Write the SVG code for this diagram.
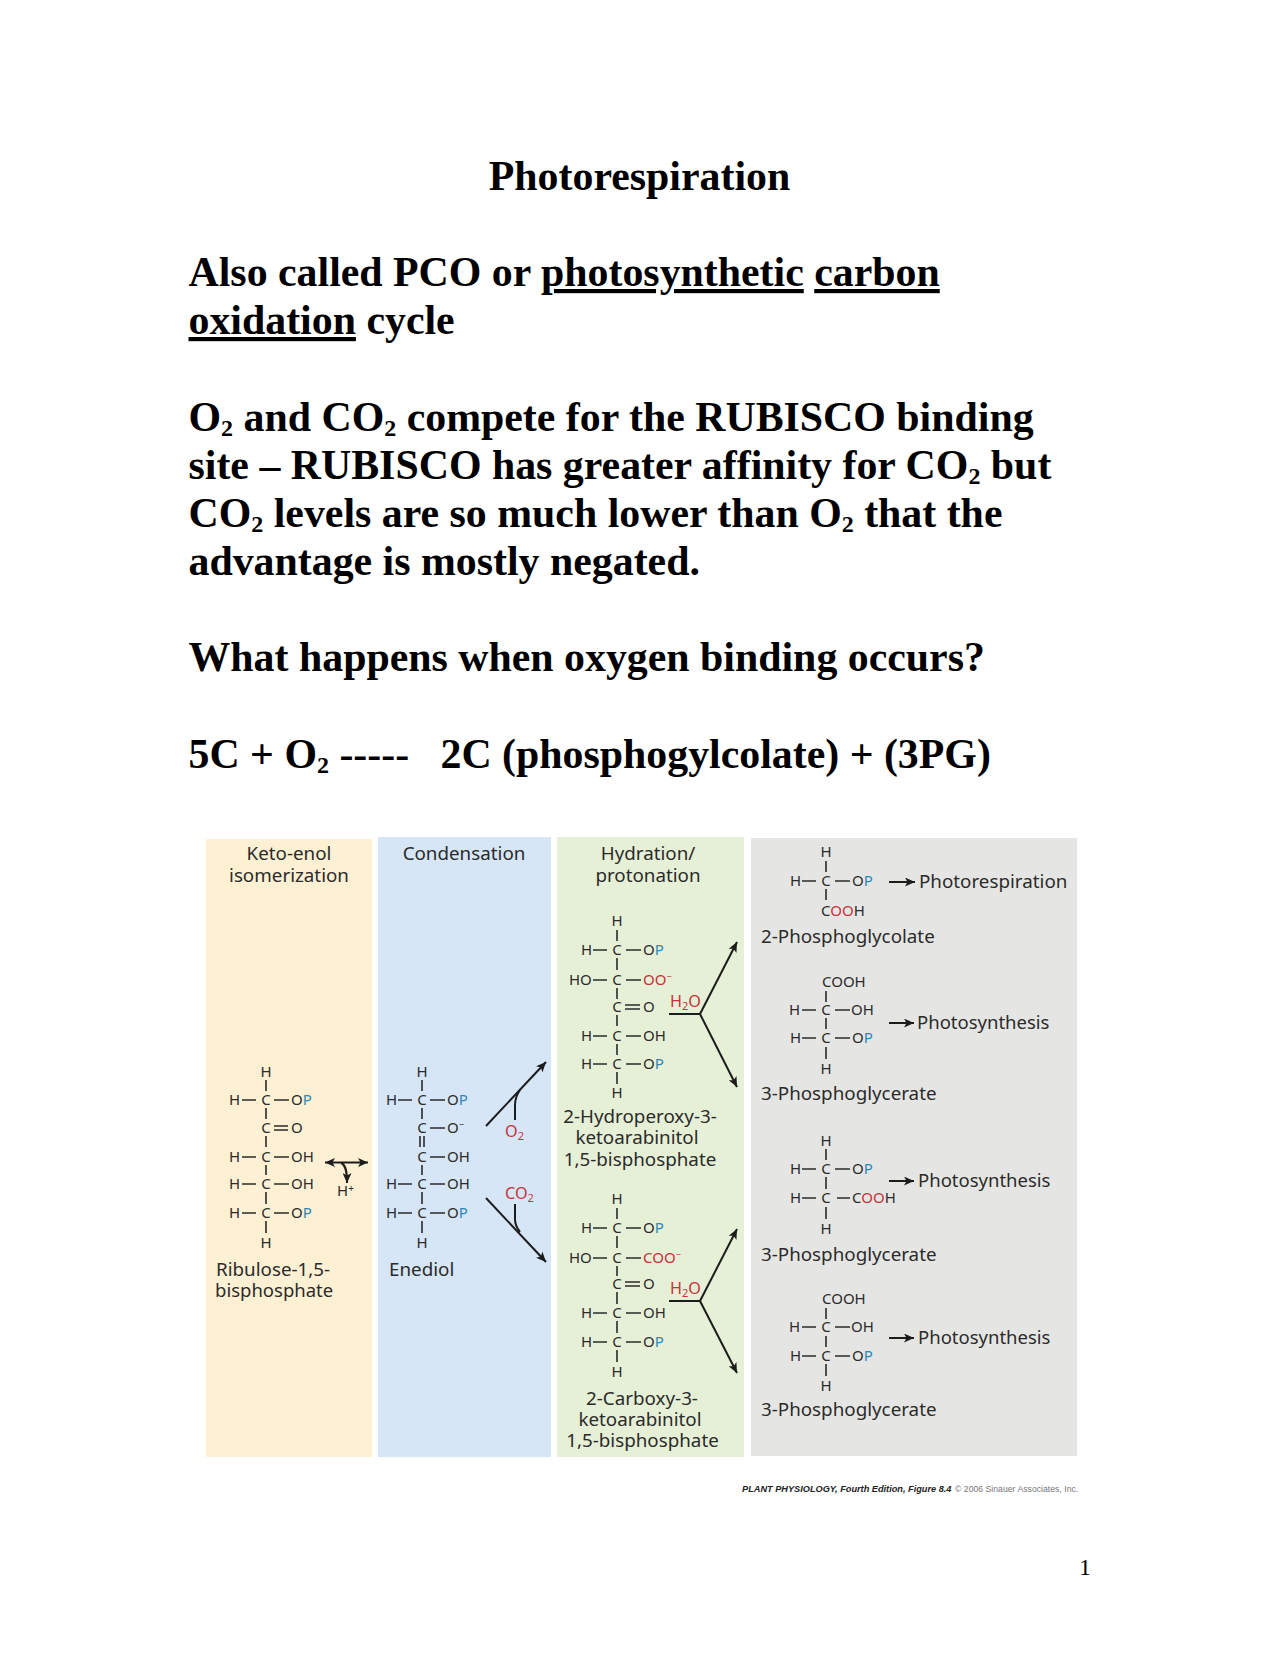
<svg xmlns="http://www.w3.org/2000/svg" width="1280" height="1656" viewBox="0 0 1280 1656">
<defs>
<marker id="ah" markerUnits="userSpaceOnUse" markerWidth="11" markerHeight="9" refX="10" refY="4.500" orient="auto"><path d="M0 0L10 4.500L0 9L2.500 4.500Z" fill="#1c1c1c"/></marker>
</defs>
<style>
.t{font-family:"Liberation Serif","Times New Roman",serif;font-weight:bold;font-size:41.850px;fill:#000}
.u{text-decoration:underline;text-decoration-thickness:2px}
.s{font-size:24px}
.a{font-family:"Noto Sans",sans-serif;font-size:15px;fill:#2b2b2b}
.m{text-anchor:middle}
.r{fill:#c8323c}
.p{fill:#2f86b8}
.g{font-size:16.200px}
.sb{font-size:11px}
.l{font-family:"Noto Sans",sans-serif;font-size:18.800px;fill:#2b2b2b}
.n{font-size:18.500px}
.b{stroke:#2b2b2b;stroke-width:1.600;fill:none}
.c{stroke:#1c1c1c;stroke-width:2;fill:none}
.ca{marker-end:url(#ah)}
.cap{font-family:"Liberation Sans",Arial,sans-serif;font-size:9.200px}
.cr{font-size:8.700px}
</style>
<rect width="1280" height="1656" fill="#fff"/>
<g id="page-text">
<text class="t m" x="639.500" y="190">Photorespiration</text>
<text class="t" x="188.500" y="286">Also called PCO or <tspan class="u">photosynthetic</tspan> <tspan class="u">carbon</tspan></text>
<text class="t" x="188.500" y="334"><tspan class="u">oxidation</tspan> cycle</text>
<text class="t" x="188.500" y="430.500">O<tspan class="s" dy="5">2</tspan><tspan dy="-5"> and CO</tspan><tspan class="s" dy="5">2</tspan><tspan dy="-5"> compete for the RUBISCO binding</tspan></text>
<text class="t" x="188.500" y="479">site – RUBISCO has greater affinity for CO<tspan class="s" dy="5">2</tspan><tspan dy="-5"> but</tspan></text>
<text class="t" x="188.500" y="527">CO<tspan class="s" dy="5">2</tspan><tspan dy="-5"> levels are so much lower than O</tspan><tspan class="s" dy="5">2</tspan><tspan dy="-5"> that the</tspan></text>
<text class="t" x="188.500" y="575">advantage is mostly negated.</text>
<text class="t" x="188.500" y="671">What happens when oxygen binding occurs?</text>
<text class="t" x="188.500" y="767.500" xml:space="preserve">5C + O<tspan class="s" dy="5">2</tspan><tspan dy="-5"> -----   2C (phosphogylcolate) + (3PG)</tspan></text>
<text x="1079" y="1575" font-family="Liberation Serif,serif" font-size="24" fill="#000">1</text>
</g>
<g id="panels">
<rect id="panel-keto" x="206" y="839" width="166" height="618" fill="#fdf0d3"/>
<rect id="panel-cond" x="378" y="837" width="173" height="620" fill="#d6e6f6"/>
<rect id="panel-hydr" x="557" y="837" width="187" height="620" fill="#e6f0d7"/>
<rect id="panel-prod" x="751" y="838" width="326" height="618" fill="#e5e6e3"/>
</g>
<g id="headers">
<text class="l m" x="289" y="860">Keto-enol</text><text class="l m" x="289" y="882">isomerization</text>
<text class="l m" x="464" y="860">Condensation</text>
<text class="l m" x="648" y="860">Hydration/</text><text class="l m" x="648" y="882">protonation</text>
</g>
<g id="ribulose" transform="translate(266 0)">
<text class="a m" y="1077">H</text>
<text class="a" x="-37" y="1105">H</text><text class="a m" y="1105">C</text><text class="a" x="25" y="1105">O<tspan class="p">P</tspan></text>
<text class="a m" y="1133">C</text><text class="a" x="25" y="1133">O</text>
<text class="a" x="-37" y="1162">H</text><text class="a m" y="1162">C</text><text class="a" x="25" y="1162">OH</text>
<text class="a" x="-37" y="1189">H</text><text class="a m" y="1189">C</text><text class="a" x="25" y="1189">OH</text>
<text class="a" x="-37" y="1218">H</text><text class="a m" y="1218">C</text><text class="a" x="25" y="1218">O<tspan class="p">P</tspan></text>
<text class="a m" y="1248">H</text>
<path class="b" d="M-24 1100H-10M8 1100H23M8 1126H22M8 1130H22M-24 1157H-10M8 1157H23M-24 1184H-10M8 1184H23M-24 1213H-10M8 1213H23M0 1080V1091M0 1108V1119M0 1136V1147M0 1165V1175M0 1192V1204M0 1221V1233"/>
<text class="l" x="-50" y="1276">Ribulose-1,5-</text><text class="l n" x="-51" y="1297">bisphosphate</text>
</g>
<g id="enediol" transform="translate(422 0)">
<text class="a m" y="1077">H</text>
<text class="a" x="-36" y="1105">H</text><text class="a m" y="1105">C</text><text class="a" x="25" y="1105">O<tspan class="p">P</tspan></text>
<text class="a m" y="1133">C</text><text class="a" x="25" y="1133">O<tspan font-size="9" dy="-5">−</tspan></text>
<text class="a m" y="1162">C</text><text class="a" x="25" y="1162">OH</text>
<text class="a" x="-36" y="1189">H</text><text class="a m" y="1189">C</text><text class="a" x="25" y="1189">OH</text>
<text class="a" x="-36" y="1218">H</text><text class="a m" y="1218">C</text><text class="a" x="25" y="1218">O<tspan class="p">P</tspan></text>
<text class="a m" y="1248">H</text>
<path class="b" d="M-24 1100H-10M8 1100H23M8 1128H23M8 1157H23M-24 1184H-10M8 1184H23M-24 1213H-10M8 1213H23M0 1080V1091M0 1108V1119M-2 1136V1147M2 1136V1147M0 1165V1175M0 1192V1204M0 1221V1233"/>
<text class="l" x="-33" y="1276">Enediol</text>
</g>
<g id="hydroperoxy" transform="translate(617 0)">
<text class="a m" y="926">H</text>
<text class="a" x="-36" y="955">H</text><text class="a m" y="955">C</text><text class="a" x="26" y="955">O<tspan class="p">P</tspan></text>
<text class="a" x="-48" y="985">HO</text><text class="a m" y="985">C</text><text class="a r" x="26" y="985">OO<tspan font-size="9" dy="-5">−</tspan></text>
<text class="a m" y="1012">C</text><text class="a" x="26" y="1012">O</text>
<text class="a" x="-36" y="1041">H</text><text class="a m" y="1041">C</text><text class="a" x="26" y="1041">OH</text>
<text class="a" x="-36" y="1069">H</text><text class="a m" y="1069">C</text><text class="a" x="26" y="1069">O<tspan class="p">P</tspan></text>
<text class="a m" y="1098">H</text>
<path class="b" d="M-24 950H-10M9 950H24M-24 980H-10M9 980H24M8 1005H23M8 1009H23M-24 1036H-10M9 1036H24M-24 1064H-10M9 1064H24M0 930V941M0 958V970M0 988V999M0 1015V1026M0 1044V1055M0 1072V1084"/>
<text class="l m" x="23" y="1123">2-Hydroperoxy-3-</text>
<text class="l m" x="20" y="1144">ketoarabinitol</text>
<text class="l m" x="23" y="1166">1,5-bisphosphate</text>
</g>
<g id="carboxy" transform="translate(617 0)">
<text class="a m" y="1204">H</text>
<text class="a" x="-36" y="1233">H</text><text class="a m" y="1233">C</text><text class="a" x="26" y="1233">O<tspan class="p">P</tspan></text>
<text class="a" x="-48" y="1263">HO</text><text class="a m" y="1263">C</text><text class="a r" x="26" y="1263">COO<tspan font-size="9" dy="-5">−</tspan></text>
<text class="a m" y="1289">C</text><text class="a" x="26" y="1289">O</text>
<text class="a" x="-36" y="1318">H</text><text class="a m" y="1318">C</text><text class="a" x="26" y="1318">OH</text>
<text class="a" x="-36" y="1347">H</text><text class="a m" y="1347">C</text><text class="a" x="26" y="1347">O<tspan class="p">P</tspan></text>
<text class="a m" y="1377">H</text>
<path class="b" d="M-24 1228H-10M9 1228H24M-24 1258H-10M9 1258H24M8 1282H23M8 1286H23M-24 1313H-10M9 1313H24M-24 1342H-10M9 1342H24M0 1208V1219M0 1236V1248M0 1266V1276M0 1292V1304M0 1321V1333M0 1350V1362"/>
<text class="l m" x="25" y="1405">2-Carboxy-3-</text>
<text class="l m" x="23" y="1426">ketoarabinitol</text>
<text class="l m" x="25.500" y="1447">1,5-bisphosphate</text>
</g>
<g id="phosphoglycolate" transform="translate(826 0)">
<text class="a m" y="857">H</text>
<text class="a" x="-36" y="886">H</text><text class="a m" y="886">C</text><text class="a" x="26" y="886">O<tspan class="p">P</tspan></text>
<text class="a" x="-5" y="916">C<tspan class="r">OO</tspan>H</text>
<path class="b" d="M-24 881H-10M9 881H24M0 861V872M0 889V900"/>
<text class="l" x="-65" y="943">2-Phosphoglycolate</text>
<text class="l" x="93" y="888">Photorespiration</text>
</g>
<g id="pga-1" transform="translate(826 0)">
<text class="a" x="-4" y="987">COOH</text>
<text class="a" x="-37" y="1015">H</text><text class="a m" y="1015">C</text><text class="a" x="25" y="1015">OH</text>
<text class="a" x="-36" y="1043">H</text><text class="a m" y="1043">C</text><text class="a" x="26" y="1043">O<tspan class="p">P</tspan></text>
<text class="a m" y="1074">H</text>
<path class="b" d="M-24 1010H-10M9 1010H24M-24 1038H-10M9 1038H24M0 991V1002M0 1018V1029M0 1047V1059"/>
<text class="l" x="-65" y="1099.500">3-Phosphoglycerate</text>
<text class="l n" x="91" y="1029">Photosynthesis</text>
</g>
<g id="pga-2" transform="translate(826 0)">
<text class="a m" y="1146">H</text>
<text class="a" x="-36" y="1174">H</text><text class="a m" y="1174">C</text><text class="a" x="26" y="1174">O<tspan class="p">P</tspan></text>
<text class="a" x="-36" y="1203">H</text><text class="a m" y="1203">C</text><text class="a" x="26" y="1203">C<tspan class="r">OO</tspan>H</text>
<text class="a m" y="1234">H</text>
<path class="b" d="M-24 1169H-10M9 1169H24M-24 1198H-10M11 1198H24M0 1149V1160M0 1177V1189M0 1207V1219"/>
<text class="l" x="-65" y="1261">3-Phosphoglycerate</text>
<text class="l n" x="92" y="1187">Photosynthesis</text>
</g>
<g id="pga-3" transform="translate(826 0)">
<text class="a" x="-4" y="1304">COOH</text>
<text class="a" x="-37" y="1332">H</text><text class="a m" y="1332">C</text><text class="a" x="25" y="1332">OH</text>
<text class="a" x="-36" y="1361">H</text><text class="a m" y="1361">C</text><text class="a" x="26" y="1361">O<tspan class="p">P</tspan></text>
<text class="a m" y="1391">H</text>
<path class="b" d="M-24 1327H-10M9 1327H24M-24 1356H-10M9 1356H24M0 1308V1319M0 1336V1347M0 1364V1376"/>
<text class="l" x="-65" y="1416">3-Phosphoglycerate</text>
<text class="l n" x="92" y="1344">Photosynthesis</text>
</g>
<g id="connectors">
<path class="c ca" d="M486 1126L546 1062"/>
<path class="c" d="M515 1120V1105Q515 1097 520 1090"/>
<path class="c ca" d="M486 1198L546 1262"/>
<path class="c" d="M515 1204V1219Q515 1226 520 1232"/>
<path class="c ca" d="M345 1162.500L325 1162.500"/>
<path class="c ca" d="M345 1162.500L368 1162.500"/>
<path class="c ca" d="M341 1163C346 1165 347 1172 347 1183"/>
<path class="c" d="M669 1014H700"/>
<path class="c ca" d="M700 1014L737 942"/>
<path class="c ca" d="M700 1014L737 1087"/>
<path class="c" d="M669 1301H700"/>
<path class="c ca" d="M700 1301L737 1229"/>
<path class="c ca" d="M700 1301L737 1373"/>
<path class="c ca" d="M889 882H915"/>
<path class="c ca" d="M889 1023H914"/>
<path class="c ca" d="M889 1181H914"/>
<path class="c ca" d="M889 1338H914"/>
</g>
<g id="reactants">
<text class="a r g" x="505" y="1137">O<tspan class="sb" dy="3">2</tspan></text>
<text class="a r g" x="505" y="1199">CO<tspan class="sb" dy="3">2</tspan></text>
<text class="a r g" x="670" y="1007">H<tspan class="sb" dy="3">2</tspan><tspan dy="-3">O</tspan></text>
<text class="a r g" x="670" y="1294">H<tspan class="sb" dy="3">2</tspan><tspan dy="-3">O</tspan></text>
<text class="a" x="337" y="1196">H<tspan font-size="10" dy="-4">+</tspan></text>
</g>
<g id="caption">
<text class="cap" x="742" y="1491.500" fill="#222" font-weight="bold" font-style="italic">PLANT PHYSIOLOGY, Fourth Edition, Figure 8.4</text>
<text class="cap cr" x="955" y="1491.500" fill="#777">© 2006 Sinauer Associates, Inc.</text>
</g>
</svg>
